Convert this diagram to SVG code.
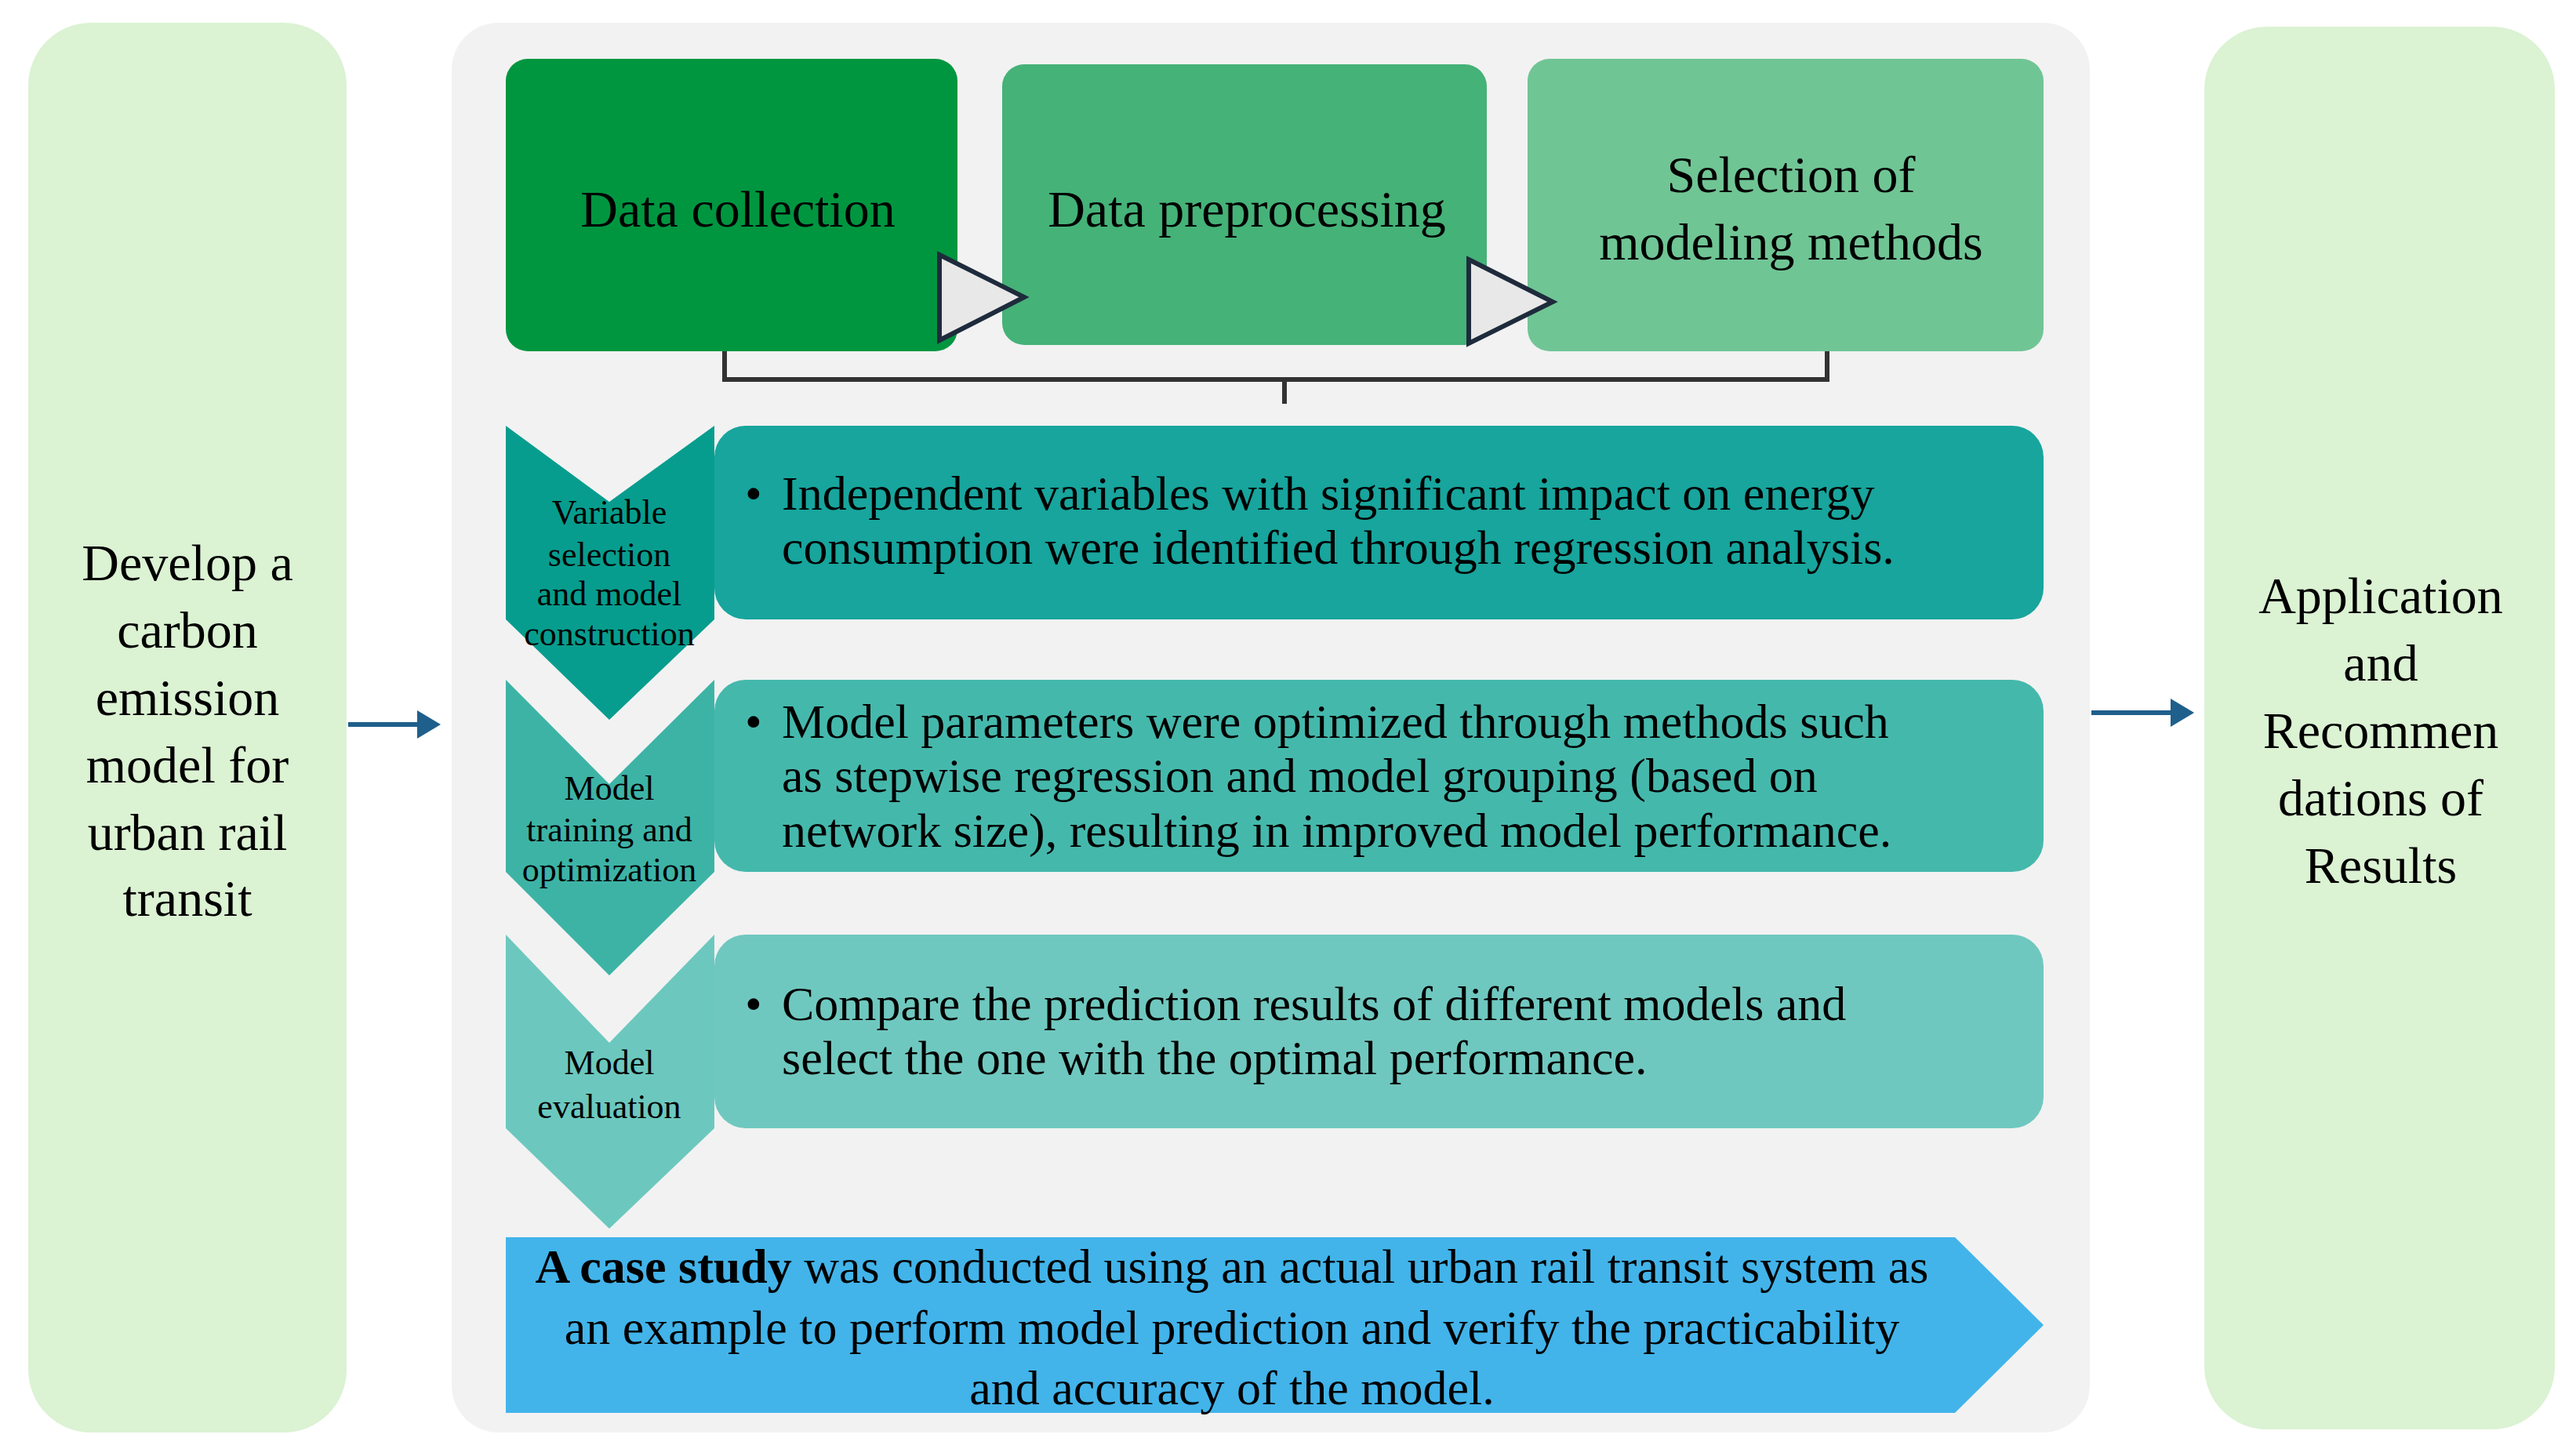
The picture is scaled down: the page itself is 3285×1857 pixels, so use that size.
<svg xmlns="http://www.w3.org/2000/svg" width="3285" height="1857" viewBox="0 0 3285 1857">
<style>
text{font-family:"Liberation Serif","Times New Roman",serif;fill:#000}
.big{font-size:66px}
.row{font-size:62px}
.lab{font-size:44px;text-anchor:middle}
.mid{text-anchor:middle}
.conn{fill:none;stroke:#1f5f8b;stroke-width:6}
</style>
<defs>
<marker id="ah" markerWidth="6" markerHeight="6" refX="4" refY="3" orient="auto" markerUnits="strokeWidth"><path d="M0,0 L5,3 L0,6 Z" fill="#1f5f8b"/></marker>
</defs>
<rect width="3285" height="1857" fill="#fff"/>
<g id="left"><rect x="36" y="29" width="406" height="1798" rx="80" fill="#dbf2d3"/>
<text class="big mid" x="239"><tspan x="239" y="740">Develop a</tspan><tspan x="239" y="826">carbon</tspan><tspan x="239" y="912">emission</tspan><tspan x="239" y="998">model for</tspan><tspan x="239" y="1084">urban rail</tspan><tspan x="239" y="1168">transit</tspan></text></g>
<g id="center"><rect x="576" y="29" width="2089" height="1798" rx="60" fill="#f2f2f2"/></g>
<g id="right"><rect x="2811" y="34" width="447" height="1789" rx="80" fill="#dbf2d3"/>
<text class="big mid"><tspan x="3036" y="782">Application</tspan><tspan x="3036" y="868">and</tspan><tspan x="3036" y="954">Recommen</tspan><tspan x="3036" y="1040">dations of</tspan><tspan x="3036" y="1126">Results</tspan></text></g>
<g id="box1"><rect x="645" y="75" width="576" height="373" rx="28" fill="#009640"/><text class="big mid" x="941" y="289">Data collection</text></g>
<g id="box2"><rect x="1278" y="82" width="618" height="358" rx="28" fill="#45b278"/><text class="big mid" x="1590" y="289">Data preprocessing</text></g>
<g id="box3"><rect x="1948" y="75" width="658" height="373" rx="28" fill="#70c595"/><text class="big mid"><tspan x="2284" y="245">Selection of</tspan><tspan x="2284" y="331">modeling methods</tspan></text></g>
<g id="tri1"><path d="M1198,325 L1306,379 L1198,434 Z" fill="#e8e8e8" stroke="#1e2b3c" stroke-width="6"/></g>
<g id="tri2"><path d="M1873,331 L1980,385 L1873,438 Z" fill="#e8e8e8" stroke="#1e2b3c" stroke-width="6"/></g>
<g id="row1"><rect x="911" y="543" width="1695" height="247" rx="40" fill="#17a59d"/>
<path d="M645,543 L777,640 L911,543 L911,790 L777,918 L645,790 Z" fill="#079d8e"/>
<text class="lab"><tspan x="777" y="668">Variable</tspan><tspan x="777" y="722">selection</tspan><tspan x="777" y="772">and model</tspan><tspan x="777" y="823">construction</tspan></text>
<text class="row"><tspan x="950" y="650">• </tspan><tspan x="997" y="650">Independent variables with significant impact on energy</tspan><tspan x="997" y="719">consumption were identified through regression analysis.</tspan></text></g>
<g id="row2"><rect x="911" y="867" width="1695" height="245" rx="40" fill="#45b8ac"/>
<path d="M645,867 L777,1000 L911,867 L911,1112 L777,1244 L645,1112 Z" fill="#3db3a6"/>
<text class="lab"><tspan x="777" y="1020">Model</tspan><tspan x="777" y="1073">training and</tspan><tspan x="777" y="1124">optimization</tspan></text>
<text class="row"><tspan x="950" y="941">• </tspan><tspan x="997" y="941">Model parameters were optimized through methods such</tspan><tspan x="997" y="1010">as stepwise regression and model grouping (based on</tspan><tspan x="997" y="1080">network size), resulting in improved model performance.</tspan></text></g>
<g id="row3"><rect x="911" y="1192" width="1695" height="247" rx="40" fill="#6fc8bf"/>
<path d="M645,1192 L777,1330 L911,1192 L911,1439 L777,1567 L645,1439 Z" fill="#6cc8be"/>
<text class="lab"><tspan x="777" y="1370">Model</tspan><tspan x="777" y="1426">evaluation</tspan></text>
<text class="row"><tspan x="950" y="1301">• </tspan><tspan x="997" y="1301">Compare the prediction results of different models and</tspan><tspan x="997" y="1370">select the one with the optimal performance.</tspan></text></g>
<g id="case"><path d="M645,1578 L2493,1578 L2606,1690 L2493,1802 L645,1802 Z" fill="#42b4ea"/>
<text class="row mid"><tspan x="1571" y="1636"><tspan font-weight="bold">A case study</tspan> was conducted using an actual urban rail transit system as</tspan><tspan x="1571" y="1714">an example to perform model prediction and verify the practicability</tspan><tspan x="1571" y="1791">and accuracy of the model.</tspan></text></g>
<g id="connectors">
<path d="M924,448 L924,484 L2330,484 L2330,448 M1638,484 L1638,515" fill="none" stroke="#333" stroke-width="6"/>
<path class="conn" d="M444,924 L556,924" marker-end="url(#ah)"/>
<path class="conn" d="M2667,909 L2792,909" marker-end="url(#ah)"/>
</g>
</svg>
